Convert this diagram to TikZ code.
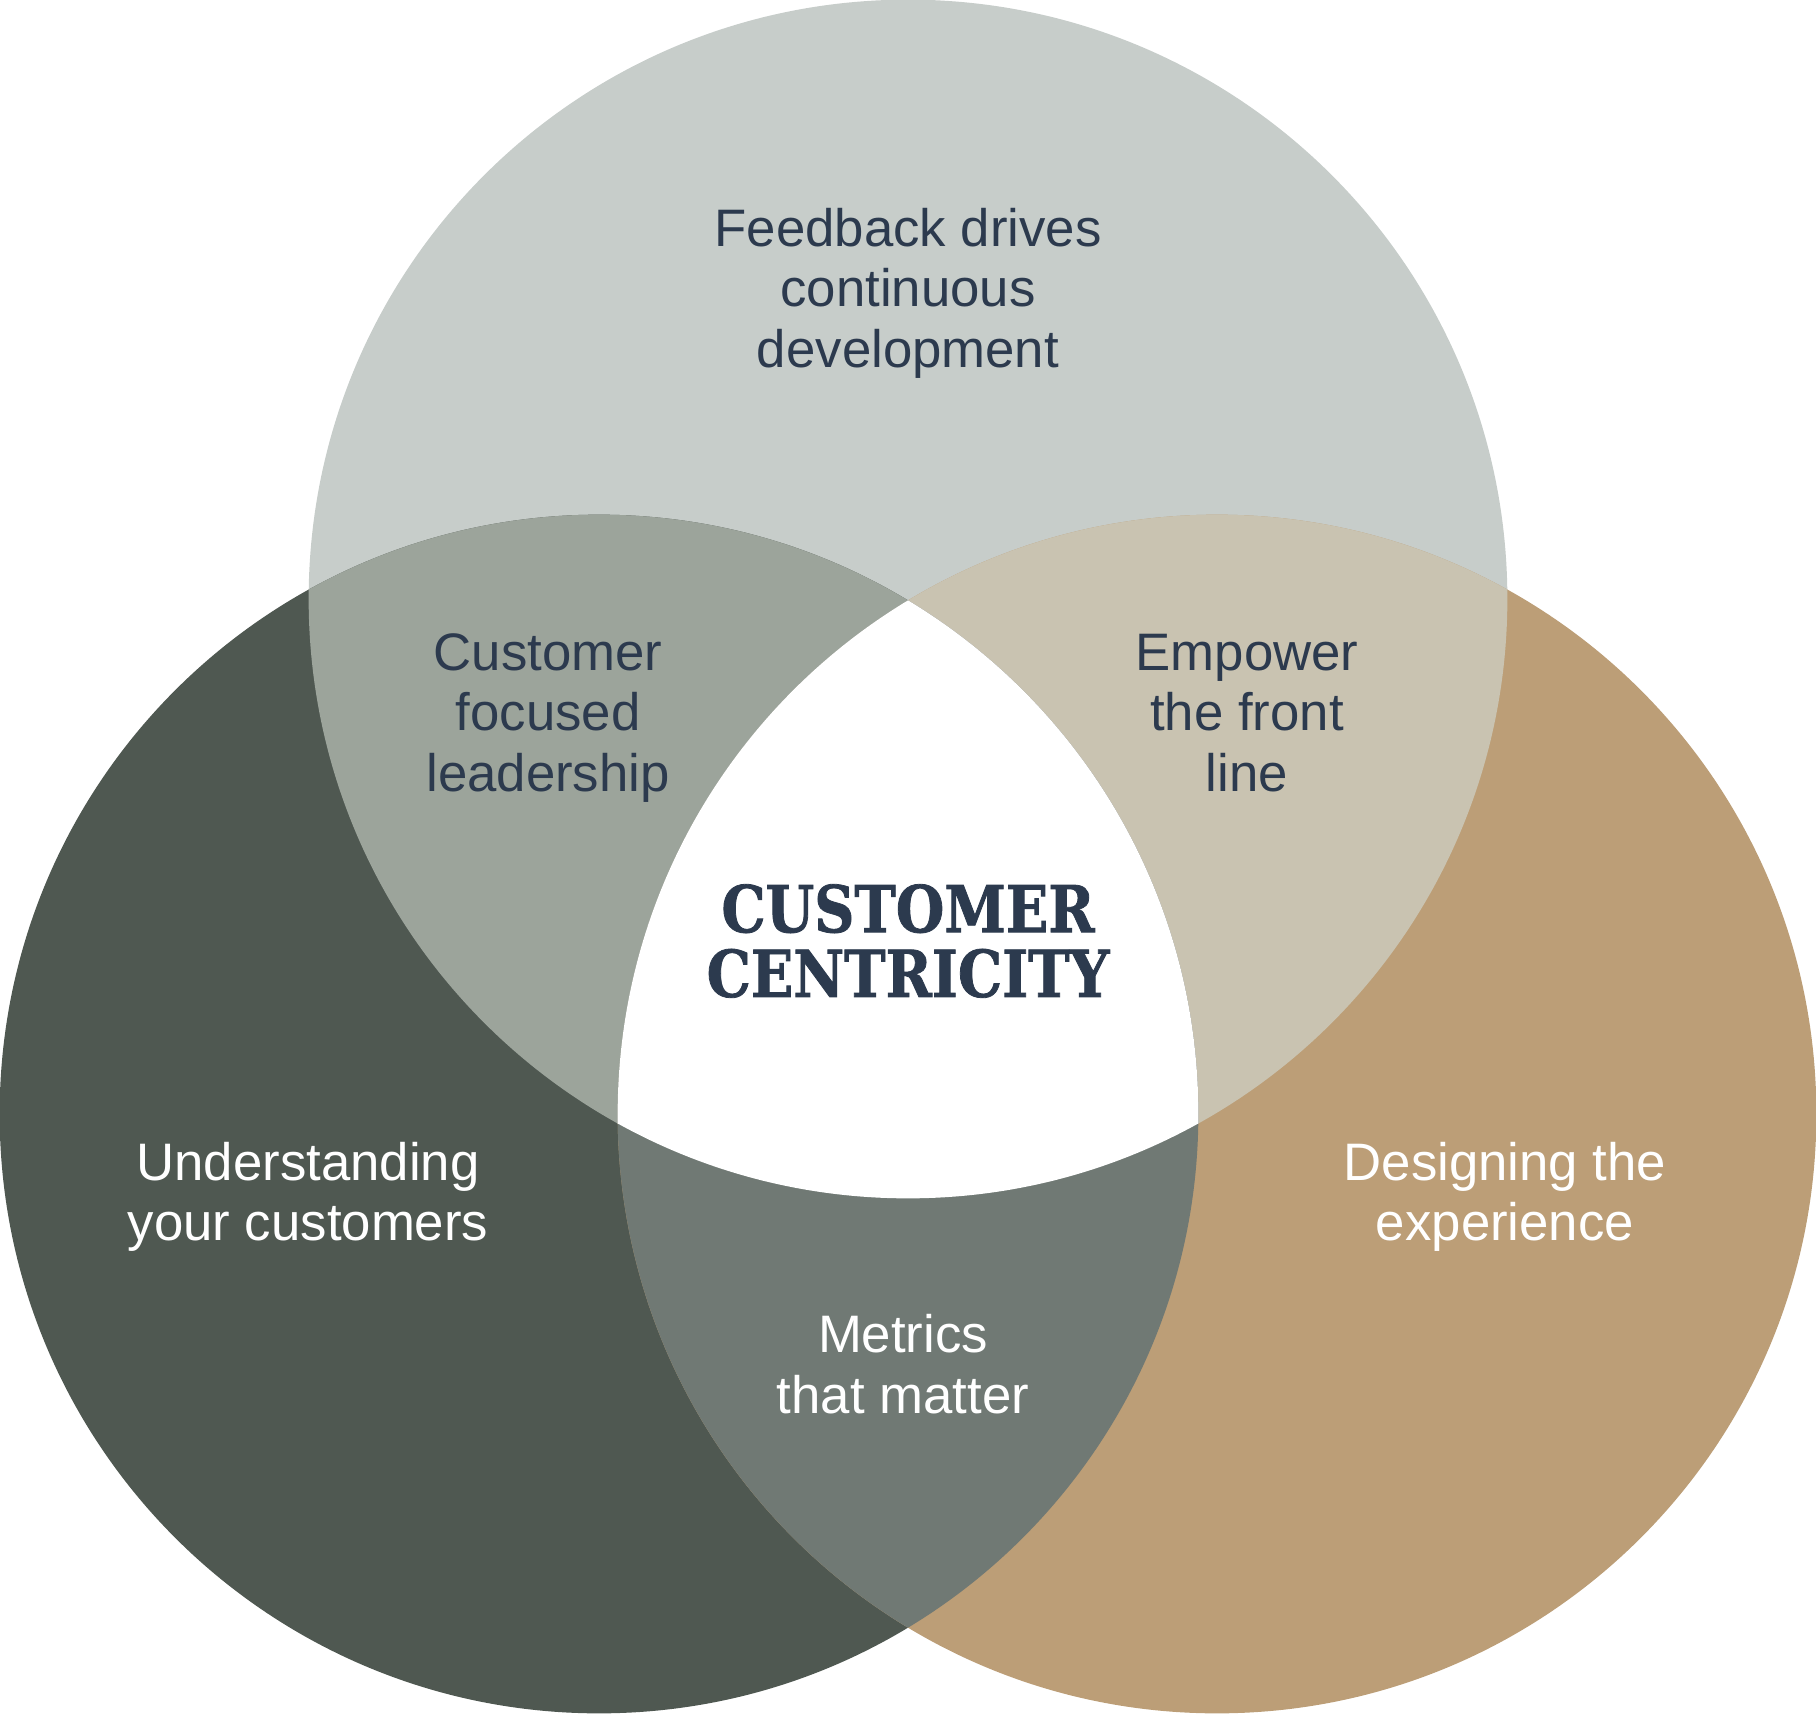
\documentclass[tikz,border=0pt]{standalone}
\usepackage{fontspec}
\setmainfont{Liberation Sans}
\newfontfamily\titlefont[FakeStretch=0.86,FakeBold=1.2]{DejaVu Serif}
\usetikzlibrary{positioning}
\definecolor{topgrey}{HTML}{C7CDCA}
\definecolor{leftdark}{HTML}{4F5851}
\definecolor{righttan}{HTML}{BC9E77}
\definecolor{tlsage}{HTML}{9CA49B}
\definecolor{trsand}{HTML}{C9C3B1}
\definecolor{lrslate}{HTML}{707974}
\definecolor{inknavy}{HTML}{2C3A4E}

\begin{document}
\begin{tikzpicture}[x=0.01cm,y=0.01cm,
  lbl/.style={align=center,font=\fontsize{15}{17.2}\selectfont,text=inknavy,inner sep=0pt},
  lbllight/.style={lbl,text=white},
  title/.style={align=center,font=\titlefont\bfseries\fontsize{18.4}{18.4}\selectfont,text=inknavy,inner sep=0pt}]
\useasboundingbox (0,0) rectangle (1816,1714);
\def\rad{5.99cm}
% circle centres
\coordinate (ct) at (908,1115);
\coordinate (cl) at (599,600);
\coordinate (cr) at (1217,600);
% the three circles
\fill[topgrey] (ct) circle[radius=\rad];
\fill[leftdark] (cl) circle[radius=\rad];
\fill[righttan] (cr) circle[radius=\rad];
% pairwise overlaps
\begin{scope}
  \clip (ct) circle[radius=\rad];
  \fill[tlsage] (cl) circle[radius=\rad];
  \fill[trsand] (cr) circle[radius=\rad];
\end{scope}
\begin{scope}
  \clip (cl) circle[radius=\rad];
  \fill[lrslate] (cr) circle[radius=\rad];
\end{scope}
% centre of all three
\begin{scope}
  \clip (ct) circle[radius=\rad];
  \clip (cl) circle[radius=\rad];
  \fill[white] (cr) circle[radius=\rad];
\end{scope}
% labels
\node[lbl] (feedback) at (908,1421) {Feedback drives\\continuous\\development};
\node[lbl] (leadership) at (548,996) {Customer\\focused\\leadership};
\node[lbl] (frontline) at (1247,1001) {Empower\\the front\\line};
\node[title] (centricity) at (908,773) {CUSTOMER\\CENTRICITY};
\node[lbllight] (customers) at (308,517) {Understanding\\your customers};
\node[lbllight] (experience) at (1505,517) {Designing the\\experience};
\node[lbllight] (metrics) at (903,350) {Metrics\\that matter};
\end{tikzpicture}
\end{document}
